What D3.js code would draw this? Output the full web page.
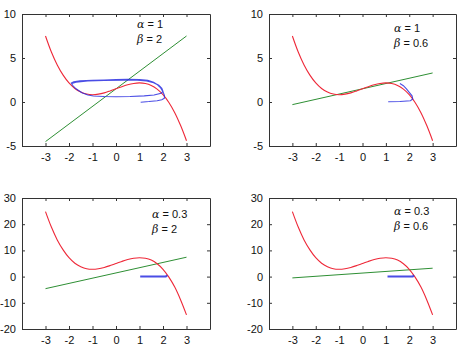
<!DOCTYPE html>
<html>
<head>
<meta charset="utf-8">
<script src="https://cdn.jsdelivr.net/npm/d3@7"></script>
<style>
  body { margin: 0; background: #fff; }
  svg { display: block; }
  text { font-family: "Liberation Sans", Arial, sans-serif; font-size: 11px; fill: #111; }
</style>
</head>
<body>
<svg width="474" height="353"></svg>
<script>
const svg = d3.select("svg");

// tick labels
const xTicks = [-3, -2, -1, 0, 1, 2, 3];
const yTicksTop = [-5, 0, 5, 10];
const yTicksBottom = [-20, -10, 0, 10, 20, 30];

// red curve (v-nullcline)
const cubicX = [-3, -2.75, -2.5, -2.25, -2, -1.75, -1.5, -1.25, -1, -0.75, -0.5, -0.25, 0,
                0.25, 0.5, 0.75, 1, 1.25, 1.5, 1.75, 2, 2.25, 2.5, 2.75, 3];
const cubicTop = [7.5, 5.68, 4.21, 3.05, 2.17, 1.54, 1.13, 0.9, 0.83, 0.89, 1.04, 1.26, 1.5,
                  1.74, 1.96, 2.11, 2.17, 2.1, 1.88, 1.46, 0.83, -0.05, -1.21, -2.68, -4.4];
const cubicBottom = [24.8, 18.9, 14.0, 10.2, 7.2, 5.1, 3.8, 3.0, 2.8, 3.0, 3.5, 4.2, 5.0,
                     5.8, 6.5, 7.0, 7.2, 7.0, 6.3, 4.9, 2.8, -0.2, -4.0, -8.9, -14.6];

// green lines (w-nullcline), end points at x = -3 and x = 3
const lineX = [-3, 3];
const lineTopLeft = [-4.5, 7.5];
const lineTopRight = [-0.3, 3.3];
const lineBottomLeft = [-4.6, 7.4];
const lineBottomRight = [-0.5, 3.2];

// blue trajectories
const trajTopLeft = [[1.05, -0.02], [1.4, 0.05], [1.75, 0.15], [1.95, 0.25], [2.06, 0.42],
  [2.06, 0.75], [2.0, 1.17], [1.9, 1.6], [1.78, 1.93], [1.6, 2.25], [1.35, 2.48], [1.0, 2.55],
  [0.48, 2.58], [0, 2.55], [-0.5, 2.5], [-1.0, 2.47], [-1.53, 2.42], [-1.8, 2.3], [-1.9, 2.15],
  [-1.85, 1.9], [-1.7, 1.5], [-1.45, 1.05], [-1.2, 0.8], [-0.96, 0.68], [-0.5, 0.62], [0, 0.6],
  [0.6, 0.62], [1.2, 0.7], [1.62, 0.8], [1.92, 1.0], [2.0, 1.2], [1.95, 1.55], [1.82, 1.9],
  [1.6, 2.2], [1.3, 2.4], [0.9, 2.47], [0.3, 2.48], [-0.5, 2.44], [-1.2, 2.38], [-1.7, 2.25],
  [-1.88, 2.1]];
const trajTopRight = [[1.1, 0.02], [1.6, 0.05], [2.05, 0.15], [2.15, 0.35], [2.12, 0.7],
  [2.0, 1.1], [1.88, 1.5], [1.75, 1.85], [1.6, 2.1]];
const trajBottomLeft = [[1.03, 0], [1.6, 0], [2.12, 0], [2.18, 0.5]];
const trajBottomRight = [[1.07, 0], [1.6, 0], [2.15, 0], [2.2, 0.5]];

const alphas = ["1", "1", "0.3", "0.3"];
const betas = ["2", "0.6", "2", "0.6"];

const panels = [
  { left: 22, right: 210, top: 14, bottom: 146, y: [-5, 10], yTicks: yTicksTop,
    red: cubicTop, green: lineTopLeft, blue: trajTopLeft, blueW: 1.1, txt: [137, 28] },
  { left: 269, right: 456, top: 14, bottom: 146, y: [-5, 10], yTicks: yTicksTop,
    red: cubicTop, green: lineTopRight, blue: trajTopRight, blueW: 1.1, txt: [394, 32] },
  { left: 22, right: 210, top: 198, bottom: 329, y: [-20, 30], yTicks: yTicksBottom,
    red: cubicBottom, green: lineBottomLeft, blue: trajBottomLeft, blueW: 2, txt: [152, 218] },
  { left: 269, right: 456, top: 198, bottom: 329, y: [-20, 30], yTicks: yTicksBottom,
    red: cubicBottom, green: lineBottomRight, blue: trajBottomRight, blueW: 2, txt: [394, 215] }
];

const fmt = d => String(d);

panels.forEach((p, i) => {
  const x = d3.scaleLinear().domain([-4, 4]).range([p.left, p.right]);
  const y = d3.scaleLinear().domain(p.y).range([p.bottom, p.top]);
  const g = svg.append("g");

  const smooth = d3.line().x(d => x(d[0])).y(d => y(d[1])).curve(d3.curveCatmullRom);
  const straight = d3.line().x(d => x(d[0])).y(d => y(d[1]));

  // green line
  g.append("path")
    .datum(lineX.map((v, j) => [v, p.green[j]]))
    .attr("fill", "none").attr("stroke", "#2e8f34").attr("stroke-width", 1)
    .attr("d", straight);

  // red cubic
  g.append("path")
    .datum(cubicX.map((v, j) => [v, p.red[j]]))
    .attr("fill", "none").attr("stroke", "#ee2838").attr("stroke-width", 1.1)
    .attr("d", smooth);

  // blue trajectory
  g.append("path")
    .datum(p.blue)
    .attr("fill", "none").attr("stroke", "#2a2ee0").attr("stroke-width", p.blueW)
    .attr("opacity", 0.85)
    .attr("d", straight);

  // axes, MATLAB style: box with inward ticks on all sides
  g.append("g").attr("class", "ax")
    .attr("transform", `translate(0,${p.bottom})`)
    .call(d3.axisBottom(x).tickValues(xTicks).tickSizeInner(-3).tickSizeOuter(0)
      .tickPadding(7).tickFormat(fmt));
  g.append("g").attr("class", "ax")
    .attr("transform", `translate(0,${p.top})`)
    .call(d3.axisTop(x).tickValues(xTicks).tickSizeInner(-3).tickSizeOuter(0).tickFormat(""));
  g.append("g").attr("class", "ax")
    .attr("transform", `translate(${p.left},0)`)
    .call(d3.axisLeft(y).tickValues(p.yTicks).tickSizeInner(-3).tickSizeOuter(0)
      .tickPadding(6).tickFormat(fmt));
  g.append("g").attr("class", "ax")
    .attr("transform", `translate(${p.right},0)`)
    .call(d3.axisRight(y).tickValues(p.yTicks).tickSizeInner(-3).tickSizeOuter(0).tickFormat(""));

  g.selectAll(".ax .domain").attr("stroke", "#333");
  g.selectAll(".ax .tick line").attr("stroke", "#333");
  g.selectAll(".ax .tick text")
    .attr("font-family", "Liberation Sans, Arial, sans-serif")
    .attr("font-size", 12).attr("fill", "#111");

  // parameter labels
  const t1 = g.append("text").attr("x", p.txt[0]).attr("y", p.txt[1]).attr("font-size", 12);
  t1.append("tspan").attr("font-family", "DejaVu Serif, serif").attr("font-style", "italic").text("α");
  t1.append("tspan").text(" = " + alphas[i]);
  const t2 = g.append("text").attr("x", p.txt[0]).attr("y", p.txt[1] + 15).attr("font-size", 12);
  t2.append("tspan").attr("font-family", "DejaVu Serif, serif").attr("font-style", "italic").text("β");
  t2.append("tspan").text(" = " + betas[i]);
});
</script>
</body>
</html>
